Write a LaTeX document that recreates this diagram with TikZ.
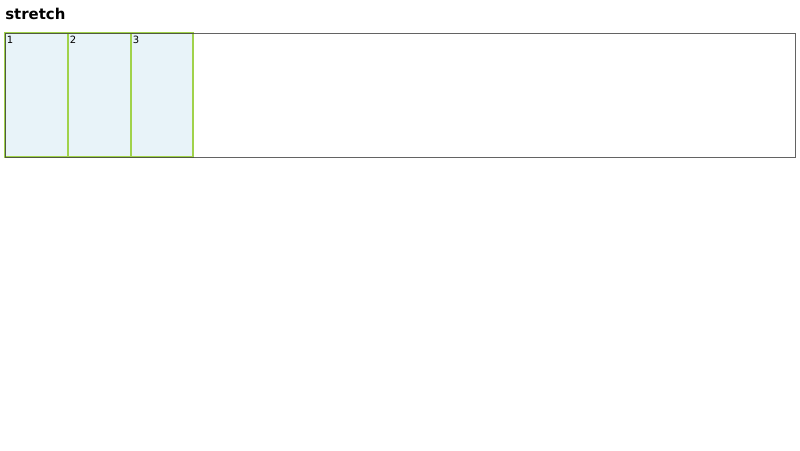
\documentclass[tikz,border=0pt]{standalone}
\usepackage{fontspec}
\setmainfont{DejaVu Sans}
\usepackage{tikz}
\usetikzlibrary{positioning}

\definecolor{itemfill}{RGB}{232,243,249}
\definecolor{itemline}{RGB}{160,210,75}
\definecolor{frameline}{RGB}{60,60,60}

\tikzset{
  flexitem/.style={fill=itemfill, minimum height=93pt, inner sep=0pt, outer sep=0pt, anchor=north west},
  itemlabel/.style={anchor=north west, inner sep=0pt, font=\fontsize{7.5}{9}\selectfont},
}

\begin{document}
\begin{tikzpicture}[x=0.75pt,y=0.75pt,yscale=-1,xscale=1]
\useasboundingbox (0,0) rectangle (800,450);

% Title
\node (title) [anchor=base west, inner sep=0pt, font=\fontsize{11.2}{13}\bfseries] at (5,19) {stretch};

% Items
\foreach \i/\x/\w in {1/5/47.25pt, 2/68/47.25pt, 3/131/46.5pt} {
  \node (item\i) [flexitem, minimum width=\w] at (\x,33) {};
  \node (lab\i) [itemlabel] at ([xshift=1.2pt,yshift=2pt]item\i.north west) {\i};
}
% Item borders
\foreach \i in {1,2,3}
  \draw [itemline, line width=0.8pt] (item\i.north west) rectangle (item\i.south east);

% Container
\node (box) [draw=frameline, draw opacity=0.8, line width=0.75pt, minimum width=592.5pt, minimum height=93pt, inner sep=0pt, anchor=north west] at (5,33) {};

\end{tikzpicture}
\end{document}
